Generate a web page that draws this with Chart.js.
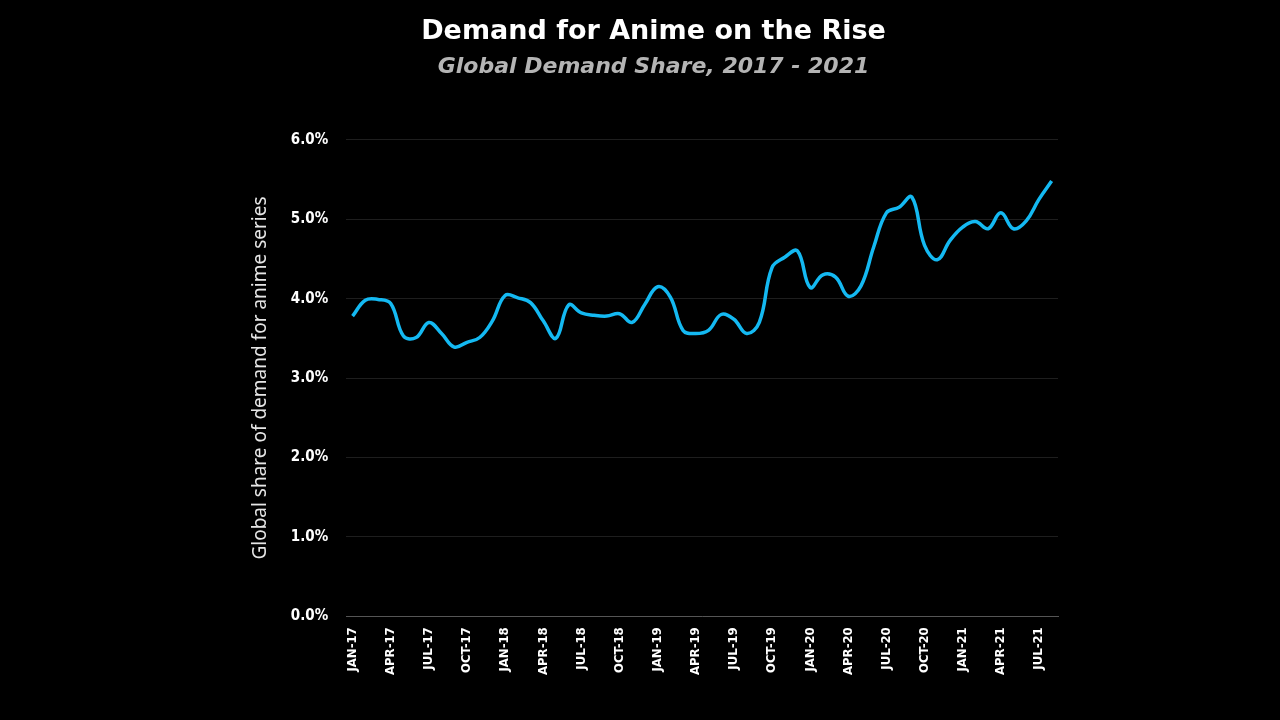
<!DOCTYPE html>
<html>
<head>
<meta charset="utf-8">
<script src="https://cdn.jsdelivr.net/npm/chart.js@4/dist/chart.umd.min.js"></script>
<style>
  html, body { margin: 0; padding: 0; background: #000; }
  #wrap { width: 1280px; height: 720px; }
</style>
</head>
<body>
<div id="wrap"><canvas id="animeChart" width="1280" height="720"></canvas></div>
<script>
var months = ["JAN-17", "FEB-17", "MAR-17", "APR-17", "MAY-17", "JUN-17", "JUL-17", "AUG-17", "SEP-17", "OCT-17", "NOV-17", "DEC-17",
              "JAN-18", "FEB-18", "MAR-18", "APR-18", "MAY-18", "JUN-18", "JUL-18", "AUG-18", "SEP-18", "OCT-18", "NOV-18", "DEC-18",
              "JAN-19", "FEB-19", "MAR-19", "APR-19", "MAY-19", "JUN-19", "JUL-19", "AUG-19", "SEP-19", "OCT-19", "NOV-19", "DEC-19",
              "JAN-20", "FEB-20", "MAR-20", "APR-20", "MAY-20", "JUN-20", "JUL-20", "AUG-20", "SEP-20", "OCT-20", "NOV-20", "DEC-20",
              "JAN-21", "FEB-21", "MAR-21", "APR-21", "MAY-21", "JUN-21", "JUL-21", "AUG-21"];

// global demand share, percent
var share = [3.78, 3.98, 3.99, 3.94, 3.53, 3.51, 3.70, 3.56, 3.39, 3.45, 3.51, 3.72,
             4.04, 4.01, 3.95, 3.72, 3.50, 3.92, 3.82, 3.79, 3.78, 3.81, 3.70, 3.93,
             4.15, 4.02, 3.60, 3.56, 3.60, 3.80, 3.74, 3.56, 3.70, 4.39, 4.52, 4.60,
             4.14, 4.30, 4.27, 4.03, 4.16, 4.65, 5.08, 5.15, 5.28, 4.67, 4.49, 4.73,
             4.90, 4.97, 4.88, 5.08, 4.88, 4.98, 5.25, 5.48];

var yTicks = [0, 1, 2, 3, 4, 5, 6];

// condensed bold for the tick labels (stretch keyword goes in front of the weight)
var narrow = "'DejaVu Sans', sans-serif";

var ctx = document.getElementById("animeChart");
var animeChart = new Chart(ctx, {
  type: "line",
  data: {
    labels: months,
    datasets: [
      {
        label: "Anime demand share",
        data: share,
        borderColor: "#14b9f2",
        borderWidth: 3.5,
        pointRadius: 0,
        tension: 0.4,
        fill: false
      }
    ]
  },
  options: {
    responsive: false,
    animation: false,
    layout: {
      padding: { top: 16, left: 249, right: 222, bottom: 34 }
    },
    plugins: {
      legend: { display: false },
      tooltip: { enabled: false },
      title: {
        display: true,
        text: "Demand for Anime on the Rise",
        color: "#ffffff",
        font: { family: "'DejaVu Sans', sans-serif", size: 27, weight: "bold" },
        padding: { top: 0, bottom: 6 }
      },
      subtitle: {
        display: true,
        text: "Global Demand Share, 2017 - 2021",
        color: "#b4b4b4",
        font: { family: "'DejaVu Sans', sans-serif", size: 22, weight: "bold", style: "italic" },
        padding: { top: 0, bottom: 59 }
      }
    },
    scales: {
      x: {
        offset: true,
        grid: { display: false, drawTicks: false },
        border: { display: true, color: "#555555", width: 1 },
        ticks: {
          color: "#ffffff",
          font: { family: narrow, size: 13, weight: "condensed bold" },
          autoSkip: false,
          maxRotation: 90,
          minRotation: 90,
          padding: 11,
          callback: function (val, i) {
            return i % 3 === 0 ? months[i] : null;
          }
        }
      },
      y: {
        min: 0,
        max: 6,
        afterBuildTicks: function (axis) {
          axis.ticks = yTicks.map(function (v) { return { value: v }; });
        },
        grid: { color: "#1e1e1e", lineWidth: 1, drawTicks: false },
        border: { display: false },
        ticks: {
          color: "#ffffff",
          font: { family: narrow, size: 15, weight: "condensed bold" },
          padding: 18,
          callback: function (v) { return v.toFixed(1) + "%"; }
        },
        title: {
          display: true,
          text: "Global share of demand for anime series",
          color: "#e6e6e6",
          font: { family: "'Noto Sans', sans-serif", size: 19, weight: "normal" },
          padding: { top: 0, bottom: 1 }
        }
      }
    }
  }
});
</script>
</body>
</html>
